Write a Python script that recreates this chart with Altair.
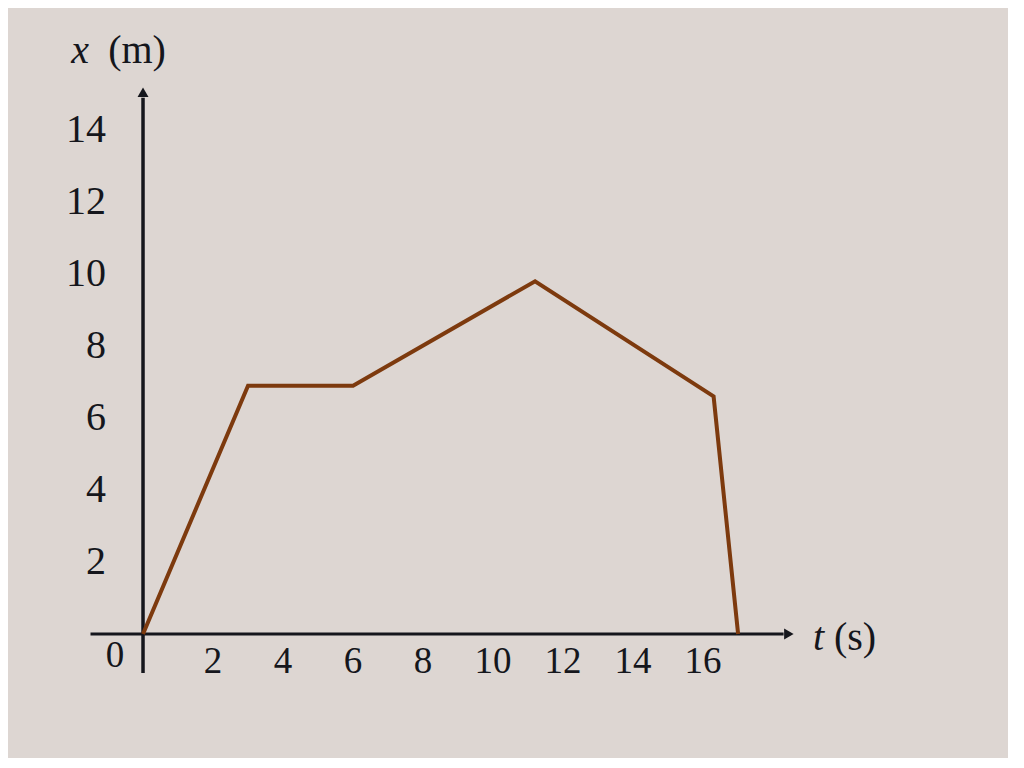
import altair as alt
import pandas as pd

# Data
t_vals = [0, 3, 6, 11.2, 16.3, 17]
x_vals = [0, 6.9, 6.9, 9.8, 6.6, 0]

x_ticks = [2, 4, 6, 8, 10, 12, 14, 16]
y_ticks = [2, 4, 6, 8, 10, 12, 14]

xs = alt.Scale(domain=[-3.857, 24.71], nice=False, zero=False)
ys = alt.Scale(domain=[-3.444, 17.39], nice=False, zero=False)

AX = "#15161c"
LINE = "#7d3a0e"
FONT = "Liberation Serif"

def enc(ch, tx="t", ty="y"):
    return ch.encode(
        x=alt.X(f"{tx}:Q", scale=xs, axis=None),
        y=alt.Y(f"{ty}:Q", scale=ys, axis=None),
    )

line_df = pd.DataFrame({"t": t_vals, "x": x_vals})
line = alt.Chart(line_df).mark_line(color=LINE, strokeWidth=4, strokeJoin="miter").encode(
    x=alt.X("t:Q", scale=xs, axis=None),
    y=alt.Y("x:Q", scale=ys, axis=None),
)

# axes
xaxis_df = pd.DataFrame({"a": [-1.5], "b": [18.3], "y": [0]})
xaxis = alt.Chart(xaxis_df).mark_rule(color=AX, strokeWidth=3).encode(
    x=alt.X("a:Q", scale=xs, axis=None), x2="b:Q", y=alt.Y("y:Q", scale=ys, axis=None)
)
yaxis_df = pd.DataFrame({"x": [0], "a": [-1.08], "b": [14.9]})
yaxis = alt.Chart(yaxis_df).mark_rule(color=AX, strokeWidth=3.5).encode(
    x=alt.X("x:Q", scale=xs, axis=None), y=alt.Y("a:Q", scale=ys, axis=None), y2="b:Q"
)
arr_up = enc(alt.Chart(pd.DataFrame({"t": [0], "y": [15.05]})).mark_point(
    shape="triangle-up", filled=True, color=AX, size=120, opacity=1
))
arr_right = enc(alt.Chart(pd.DataFrame({"t": [18.45], "y": [0]})).mark_point(
    shape="triangle-right", filled=True, color=AX, size=120, opacity=1
))

# tick labels
xl_df = pd.DataFrame({"t": x_ticks, "y": [-0.78] * len(x_ticks), "lab": [str(v) for v in x_ticks]})
xlabels = alt.Chart(xl_df).mark_text(font=FONT, fontSize=37, color=AX, baseline="middle", align="center").encode(
    x=alt.X("t:Q", scale=xs, axis=None), y=alt.Y("y:Q", scale=ys, axis=None), text="lab:N"
)
yl_df = pd.DataFrame({"t": [-1.06] * len(y_ticks), "y": y_ticks, "lab": [str(v) for v in y_ticks]})
ylabels = alt.Chart(yl_df).mark_text(font=FONT, fontSize=40, color=AX, baseline="middle", align="right").encode(
    x=alt.X("t:Q", scale=xs, axis=None), y=alt.Y("y:Q", scale=ys, axis=None), text="lab:N"
)
zero_df = pd.DataFrame({"t": [-0.8], "y": [-0.62], "lab": ["0"]})
zero = alt.Chart(zero_df).mark_text(font=FONT, fontSize=37, color=AX, baseline="middle", align="center").encode(
    x=alt.X("t:Q", scale=xs, axis=None), y=alt.Y("y:Q", scale=ys, axis=None), text="lab:N"
)

# axis titles
it_df = pd.DataFrame({"t": [-1.8, 19.3], "y": [16.2, -0.11], "lab": ["x", "t"]})
italics = alt.Chart(it_df).mark_text(font=FONT, fontSize=40, fontStyle="italic", color=AX, baseline="middle", align="center").encode(
    x=alt.X("t:Q", scale=xs, axis=None), y=alt.Y("y:Q", scale=ys, axis=None), text="lab:N"
)
un_df = pd.DataFrame({"t": [-0.17, 20.34], "y": [16.2, -0.11], "lab": ["(m)", "(s)"]})
units = alt.Chart(un_df).mark_text(font=FONT, fontSize=40, color=AX, baseline="middle", align="center").encode(
    x=alt.X("t:Q", scale=xs, axis=None), y=alt.Y("y:Q", scale=ys, axis=None), text="lab:N"
)

chart = alt.layer(
    xaxis, yaxis, arr_up, arr_right, line, xlabels, ylabels, zero, italics, units
).properties(
    width=1000, height=750, padding=0, background="#ddd6d2"
).configure_view(stroke=None)

chart.save("out.html", embed_options={"renderer": "svg", "actions": False})
